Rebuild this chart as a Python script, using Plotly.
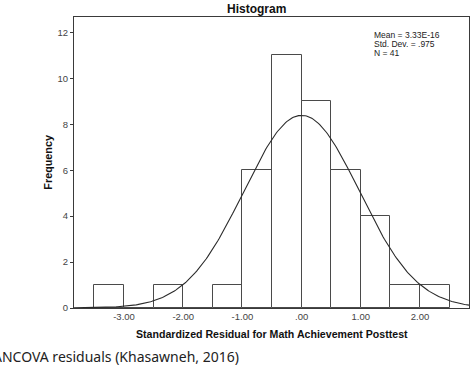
import numpy as np
import plotly.graph_objects as go

# ---- data ----
bin_left_edges = [-3.5, -3.0, -2.5, -2.0, -1.5, -1.0, -0.5, 0.0, 0.5, 1.0, 1.5, 2.0]
bin_counts = [1, 0, 1, 0, 1, 6, 11, 9, 6, 4, 1, 1]
bin_width = 0.5

stat_mean = 3.33e-16
stat_sd = 0.975
stat_n = 41

x_tick_vals = [-3, -2, -1, 0, 1, 2]
x_tick_text = ["-3.00", "-2.00", "-1.00", ".00", "1.00", "2.00"]
y_tick_vals = [0, 2, 4, 6, 8, 10, 12]
y_tick_text = ["0", "2", "4", "6", "8", "10", "12"]

stats_lines = ["Mean = 3.33E-16", "Std. Dev. = .975", "N = 41"]

# fitted normal curve from displayed statistics
x_min, x_max = -3.845, 2.828
curve_x = np.linspace(x_min, x_max, 300)
curve_y = stat_n * bin_width / (stat_sd * np.sqrt(2 * np.pi)) * np.exp(-0.5 * ((curve_x - stat_mean) / stat_sd) ** 2)

FONT = "Liberation Sans"
fig = go.Figure()
fig.add_trace(go.Bar(
    x=bin_left_edges, y=bin_counts, width=bin_width, offset=0,
    marker=dict(color="white", line=dict(color="#4a4a4a", width=1)),
    hoverinfo="skip",
))
fig.add_trace(go.Scatter(
    x=curve_x, y=curve_y, mode="lines",
    line=dict(color="#2a2a2a", width=1.1), hoverinfo="skip",
))

fig.update_layout(
    width=474, height=366,
    margin=dict(l=74, r=5, t=17, b=58, autoexpand=False),
    paper_bgcolor="white", plot_bgcolor="white",
    showlegend=False,
    bargap=0,
    font=dict(family=FONT, color="#222"),
)
fig.update_xaxes(
    range=[x_min, x_max], tickvals=x_tick_vals, ticktext=x_tick_text,
    showgrid=False, zeroline=False, showline=True, mirror=True,
    linecolor="#3a3a3a", linewidth=1, ticks="", ticklen=0,
    tickfont=dict(size=9.5, color="#444", family=FONT),
)
fig.update_yaxes(
    range=[0, 12.67], tickvals=y_tick_vals, ticktext=y_tick_text,
    showgrid=False, zeroline=False, showline=True, mirror=True,
    linecolor="#3a3a3a", linewidth=1, ticks="outside", ticklen=3,
    tickcolor="#3a3a3a",
    tickfont=dict(size=9.5, color="#444", family=FONT),
)

ann = []
ann.append(dict(text="<b>Histogram</b>", x=0.461, y=1.027, xref="paper", yref="paper",
                xanchor="center", yanchor="middle", showarrow=False,
                font=dict(size=12, color="#111", family=FONT)))
ann.append(dict(text="<b>Standardized Residual for Math Achievement Posttest</b>",
                x=0.5, y=-0.089, xref="paper", yref="paper",
                xanchor="center", yanchor="middle", showarrow=False,
                font=dict(size=10.6, color="#111", family=FONT)))
ann.append(dict(text="<b>Frequency</b>", x=-0.068, y=0.5, xref="paper", yref="paper",
                xanchor="center", yanchor="middle", textangle=-90, showarrow=False,
                font=dict(size=10.8, color="#111", family=FONT)))
for i, line in enumerate(stats_lines):
    ann.append(dict(text=line, x=0.754, y=0.938 - i * 0.030, xref="paper", yref="paper",
                    xanchor="left", yanchor="middle", showarrow=False,
                    font=dict(size=8.5, color="#222", family=FONT)))
ann.append(dict(text="ANCOVA residuals (Khasawneh, 2016)", x=-0.211, y=-0.168,
                xref="paper", yref="paper", xanchor="left", yanchor="middle",
                showarrow=False, font=dict(size=14, color="#222", family="Noto Sans")))
fig.update_layout(annotations=ann)

fig.write_html("out.html", config={"displayModeBar": False},
               post_script="document.body.style.margin='0';document.body.style.overflow='hidden';")
